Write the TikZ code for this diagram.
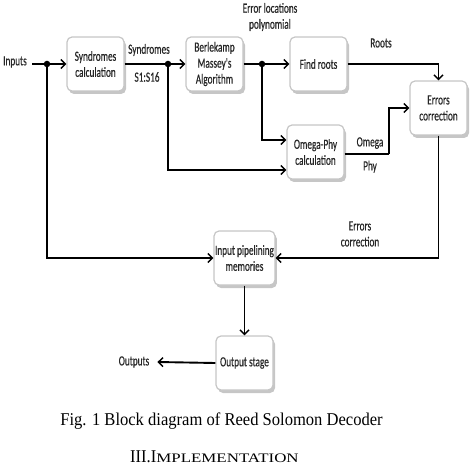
\documentclass[tikz,border=0pt]{standalone}
\usepackage{fontspec}
\setmainfont{Liberation Serif}
\newfontfamily\boxfont[FakeStretch=0.66,FakeBold=0.4]{Carlito}
\newfontfamily\capfont[FakeStretch=0.92]{Liberation Serif}
\newfontfamily\scfont[FakeStretch=1.3]{Liberation Serif}
\usetikzlibrary{shadows,arrows.meta}
\tikzset{
  blk/.style={draw=gray!45, line width=1.2pt, fill=white, rounded corners=5pt,
    minimum width=57pt, minimum height=54pt, inner sep=1pt, align=center,
    text=black!85, font=\boxfont\fontsize{14}{16}\selectfont,
    drop shadow={shadow xshift=2pt, shadow yshift=-3pt, fill=gray!45, opacity=1}},
  lbl/.style={font=\boxfont\fontsize{14}{16}\selectfont, text=black!85, align=center, inner sep=0pt},
  conn/.style={line width=1.9pt, -{Straight Barb[length=4.5pt,width=9pt,line width=1.5pt]}},
  wire/.style={line width=1.9pt},
  dot/.style={circle, fill=black, inner sep=0pt, minimum size=6.5pt}
}
\begin{document}
\begin{tikzpicture}[x=1pt,y=-1pt]
\useasboundingbox (0,0) rectangle (474,465);
% blocks
\node[blk] (syn) at (95.5,64) {Syndromes\\calculation};
\node[blk] (bm)  at (214.5,64) {Berlekamp\\Massey's\\Algorithm};
\node[blk] (fr)  at (318.5,64) {Find roots};
\node[blk] (ec)  at (438.5,108) {Errors\\correction};
\node[blk] (omg) at (315.5,152) {Omega-Phy\\calculation};
\node[blk] (pip) at (244.5,258) {Input pipelining\\memories};
\node[blk] (out) at (244.5,363) {Output stage};
% labels
\node[lbl] (inp)  at (15,62) {Inputs};
\node[lbl] (outp) at (134,362) {Outputs};
\node[lbl] (lsyn) at (149,50) {Syndromes};
\node[lbl] (ls16) at (147,77) {S1:S16};
\node[lbl] (lelp) at (270,17) {Error locations\\polynomial};
\node[lbl] (lrt)  at (381,43) {Roots};
\node[lbl] (lom)  at (370,155) {Omega\\[8pt]Phy};
\node[lbl] (lerr) at (360,234) {Errors\\correction};
% junctions
\node[dot] (d1) at (47,64) {};
\node[dot] (d2) at (168,64) {};
\node[dot] (d3) at (262,64) {};
\coordinate (c1) at (389,154);
% connectors
\draw[conn] ([xshift=5pt]inp.east |- syn.west) -- (syn.west);
\draw[conn] (d1.center) |- (pip.west);
\draw[conn] (syn.east) -- (bm.west);
\draw[conn] (d2.center) |- ([yshift=-18pt]omg.west);
\draw[conn] (bm.east) -- (fr.west);
\draw[conn] (d3.center) |- ([yshift=12pt]omg.west);
\draw[conn] (fr.east) -| (ec.north);
\draw[wire] ([yshift=-2pt]omg.east) -- (c1);
\draw[conn] (c1) |- (ec.west);
\draw[conn] (ec.south) |- (pip.east);
\draw[conn] (pip.south) -- (out.north);
\draw[conn] (out.west) -- ([xshift=8pt]outp.east);
% caption
\node[inner sep=0pt, anchor=base, font=\capfont\fontsize{18}{20}\selectfont] (cap) at (221.5,425) {Fig. 1 Block diagram of Reed Solomon Decoder};
\node[inner sep=0pt, anchor=base west, font=\capfont\fontsize{18}{20}\selectfont] (sec) at (130,462) {III.I{\scfont\fontsize{13}{14}\selectfont MPLEMENTATION}};
\end{tikzpicture}
\end{document}
